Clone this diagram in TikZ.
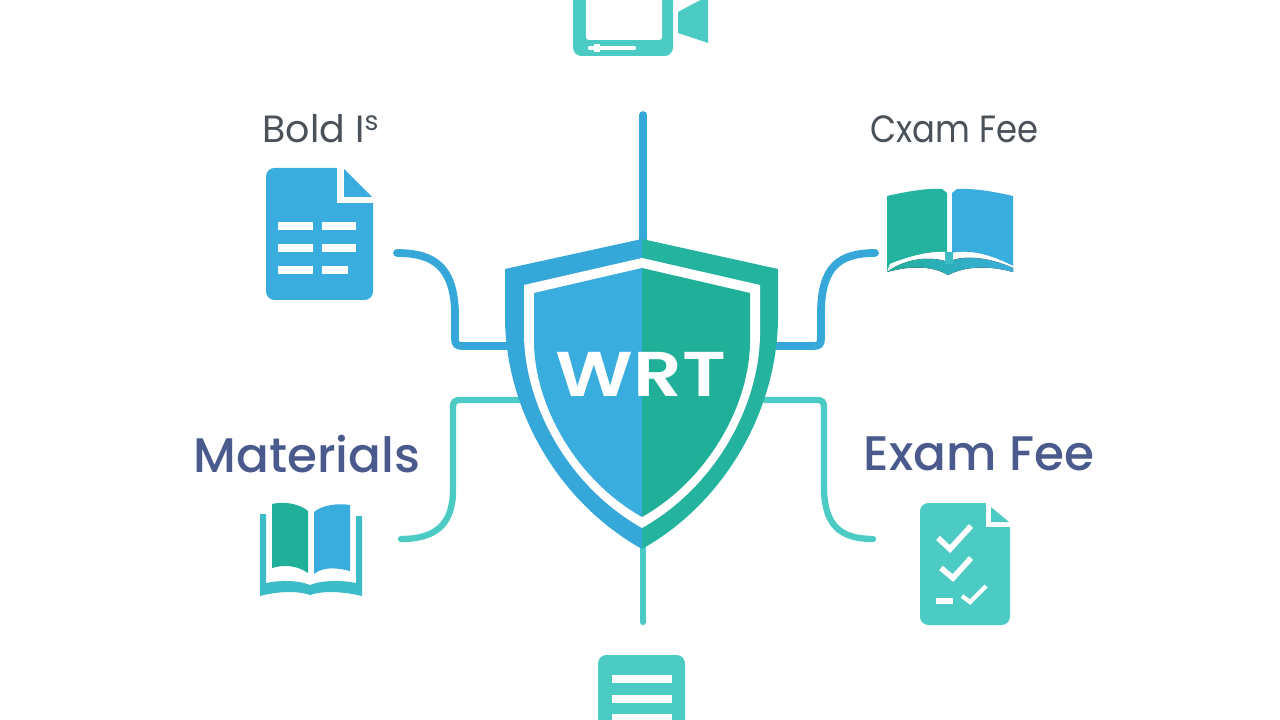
\documentclass[tikz,border=0pt]{standalone}
\usepackage{graphicx}
\usepackage{fontspec}
\setmainfont{Poppins}
\newfontfamily\labelfont{Poppins Medium}
\newfontfamily\shieldfont{Poppins SemiBold}
\definecolor{skyblue}{HTML}{3AADDF}
\definecolor{ringblue}{HTML}{35A7D8}
\definecolor{seagreen}{HTML}{20B09A}
\definecolor{ringgreen}{HTML}{24B39F}
\definecolor{aqua}{HTML}{4CCBC5}
\definecolor{bandteal}{HTML}{3BBCC6}
\definecolor{slate}{HTML}{4B5158}
\definecolor{indigo}{HTML}{4A5A8C}
% half of the shield: colour, side, top, half width, shoulder, bottom
\newcommand{\shieldhalf}[6]{\fill[#1] (642,#3)--({642+#2*#4},#5)--({642+#2*#4},{#5+50})
    .. controls ({642+#2*(#4-1)},{#5+0.5*(#6-#5)}) and ({642+#2*0.62*#4},{#6-0.17*(#6-#5)}) .. (642,#6)--cycle;}
\begin{document}
\begin{tikzpicture}[x=0.025cm,y=-0.025cm,line cap=round,
    linkblue/.style={ringblue,line width=5.5pt},
    linkaqua/.style={aqua,line width=4.5pt},
    whitebar/.style={white,line width=6pt,line cap=butt},
    tick/.style={white,line width=4pt,line cap=butt,line join=miter},
    smalllabel/.style={slate,font=\fontsize{27}{31}\selectfont,inner sep=0pt},
    biglabel/.style={indigo,font=\labelfont\fontsize{34.5}{40}\selectfont,inner sep=0pt}]
    \useasboundingbox (0,0) rectangle (1280,720);
    \clip (0,0) rectangle (1280,720);
    % ends of the connectors
    \coordinate (top) at (643,115);
    \coordinate (shieldtop) at (643,245);
    \coordinate (bottom) at (643,622);
    \coordinate (shieldbottom) at (643,545);
    \coordinate (docend) at (397,253);
    \coordinate (bookend) at (875,253);
    \coordinate (openend) at (401,539);
    \coordinate (checkend) at (873,539);
    \coordinate (shieldlu) at (510,346);
    \coordinate (shieldru) at (775,346);
    \coordinate (shieldld) at (520,400);
    \coordinate (shieldrd) at (765,400);
    % connectors
    \draw[linkblue] (top)--(shieldtop);
    \draw[linkaqua] (bottom)--(shieldbottom);
    \draw[linkblue] (docend) .. controls (435,253) and (453,268) .. (455,310)--(455,339)
        .. controls (455,344) and (457,346) .. (462,346)--(shieldlu);
    \draw[linkblue] (bookend) .. controls (838,253) and (822,268) .. (821,310)--(821,339)
        .. controls (821,344) and (819,346) .. (814,346)--(shieldru);
    \draw[linkaqua] (openend) .. controls (435,539) and (453,525) .. (453,490)--(453,407)
        .. controls (453,402) and (455,400) .. (460,400)--(shieldld);
    \draw[linkaqua] (checkend) .. controls (840,539) and (825,525) .. (824,490)--(824,407)
        .. controls (824,402) and (822,400) .. (817,400)--(shieldrd);
    % shield
    \shieldhalf{ringblue}{-1}{239}{137}{269}{549}
    \shieldhalf{ringgreen}{1}{239}{136}{269}{549}
    \shieldhalf{white}{-1}{258}{118}{285}{528}
    \shieldhalf{white}{1}{258}{118}{285}{528}
    \shieldhalf{skyblue}{-1}{268}{108}{293}{517}
    \shieldhalf{seagreen}{1}{268}{108}{293}{517}
    \node[white,inner sep=0pt,font=\shieldfont\fontsize{45}{50}\selectfont] (wrt) at (641,374) {\scalebox{1.2}[1]{WRT}};
    % labels
    \node[smalllabel] (bold) at (321,129) {Bold I\textsuperscript{s}};
    \node[smalllabel] (cxam) at (954,129) {\scalebox{0.89}[1]{Cxam Fee}};
    \node[biglabel] (materials) at (307,454) {Materials};
    \node[biglabel] (exam) at (979,454) {Exam Fee};
    % document
    \fill[skyblue,rounded corners=6pt] (266,168) rectangle (373,300);
    \fill[white] (337,160) rectangle (380,203);
    \fill[skyblue] (344,169)--(372,197)--(344,197)--cycle;
    \foreach \y in {226,248,270} \draw[whitebar] (278,\y)--(313,\y);
    \foreach \y/\e in {226/356,248/356,270/348} \draw[whitebar] (322,\y)--(\e,\y);
    % open book, right
    \fill[ringgreen] (887,196) .. controls (905,192) and (925,188) .. (942,189)--(947,193)--(947,252)
        .. controls (930,251) and (910,256) .. (890,264)--(887,272)--cycle;
    \fill[skyblue] (952,193)--(957,189) .. controls (975,188) and (995,192) .. (1013,196)--(1013,270)
        .. controls (995,257) and (975,249) .. (952,253)--cycle;
    \fill[white] (890,264) .. controls (910,256) and (930,251) .. (947,252)--(952,253)
        .. controls (975,249) and (995,257) .. (1013,266)--(1013,272)--(887,272)--cycle;
    \fill[left color=seagreen,right color=skyblue] (887,272) .. controls (900,262) and (925,254) .. (948,262)
        .. controls (965,254) and (990,258) .. (1013,268)--(1013,272) .. controls (995,267) and (970,264) .. (948,275)
        .. controls (930,264) and (905,267) .. (887,272)--cycle;
    \fill[bandteal] (945,252) rectangle (953,264);
    % open book, left
    \fill[seagreen] (272,504) .. controls (285,501) and (300,504) .. (308,511)--(308,573)
        .. controls (298,566) and (285,564) .. (272,568)--cycle;
    \fill[skyblue] (314,512) .. controls (322,505) and (338,503) .. (350,505)--(350,571)
        .. controls (338,568) and (324,566) .. (314,574)--cycle;
    \fill[bandteal] (260,514)--(266,514)--(266,583) .. controls (280,580) and (298,580) .. (310,585)
        .. controls (322,580) and (342,580) .. (356,583)--(356,516)--(362,516)--(362,596)
        .. controls (345,592) and (325,590) .. (310,595) .. controls (295,590) and (275,592) .. (260,596)--cycle;
    % checklist
    \fill[aqua,rounded corners=6pt] (920,503) rectangle (1010,625);
    \fill[white] (986,495) rectangle (1016,527);
    \fill[aqua] (991,507)--(1009,522)--(991,522)--cycle;
    \draw[tick] (938,538)--(950,549)--(971,526);
    \draw[tick] (941,568)--(953,578)--(971,558);
    \draw[tick] (936,601)--(953,601);
    \draw[tick,line width=3pt] (962,596)--(970,602)--(986,586);
    % camera
    \fill[aqua,rounded corners=6pt] (573,-20) rectangle (673,56);
    \fill[white,rounded corners=2pt] (586,-20) rectangle (662,40);
    \draw[white,line width=3pt] (590,48)--(634,48);
    \fill[white] (594,44) rectangle (600,52);
    \fill[aqua] (678,12)--(708,-4)--(708,43)--(678,33)--cycle;
    % page
    \fill[aqua,rounded corners=6pt] (598,655) rectangle (685,740);
    \foreach \y in {679,699,718} \draw[whitebar] (612,\y)--(672,\y);
\end{tikzpicture}
\end{document}
